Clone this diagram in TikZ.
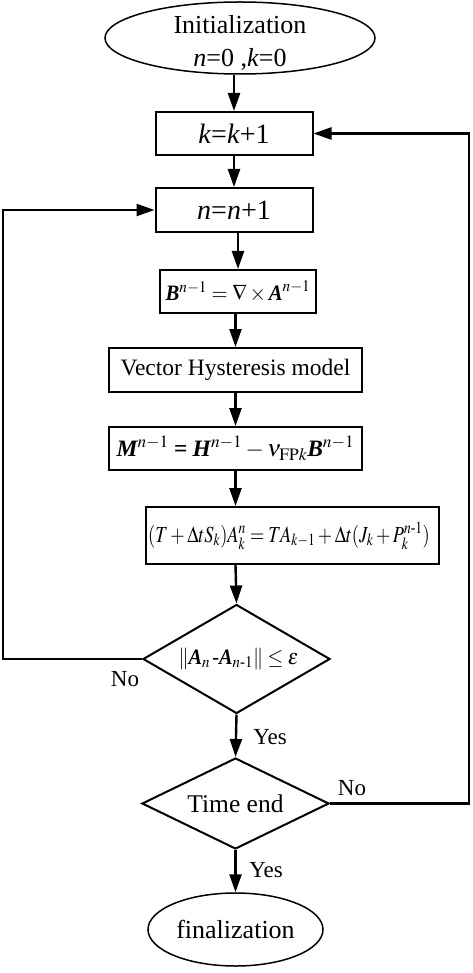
\documentclass[tikz,border=0pt]{standalone}
\usepackage{amsmath}
\usepackage{mathptmx}
\usepackage{fontspec}
\setmainfont{Liberation Serif}
\usetikzlibrary{shapes.geometric,arrows.meta}
\newcommand{\vb}[1]{\text{\bfseries\itshape #1}}
\newcommand{\fs}[1]{\fontsize{#1}{#1}\selectfont}
\begin{document}
\begin{tikzpicture}[x=1pt,y=-1pt,
  box/.style={draw, line width=2pt, inner sep=0pt},
  ell/.style={draw, ellipse, line width=1.5pt, inner sep=0pt},
  dia/.style={draw, diamond, line width=2pt, inner sep=0pt},
  arr/.style={line width=2.4pt, -{Triangle[length=18pt,width=12pt]}},
  lab/.style={inner sep=0pt, font=\fs{23}},
  txt/.style={inner sep=0pt, align=center}]
\useasboundingbox (0,0) rectangle (472,973);
% shapes
\node[ell, minimum width=270pt, minimum height=72pt] (init) at (240,38) {};
\node[txt, font=\fontsize{26}{33}\selectfont] (initT) at (240,43) {Initialization\\\textit{n}=0 ,\textit{k}=0};
\node[box, minimum width=157pt, minimum height=43pt, font=\fs{28}] (k) at (234,133.5) {\textit{k}=\textit{k}+1};
\node[box, minimum width=157pt, minimum height=44pt, font=\fs{28}] (n) at (234,210) {\textit{n}=\textit{n}+1};
\node[box, minimum width=156pt, minimum height=43pt, font=\fs{22}] (B) at (238,291.5) {\scalebox{0.94}[1]{$\vb{B}^{n-1}=\nabla\times\vb{A}^{n-1}$}};
\node[box, minimum width=253pt, minimum height=44pt, font=\fs{23.5}] (vh) at (235.5,370) {Vector Hysteresis model};
\node[box, minimum width=253pt, minimum height=43pt, font=\fs{23.5}] (M) at (235.5,448.5) {$\vb{M}^{n-1}\mathrel{\text{\bfseries =}}\vb{H}^{n-1}-\nu_{\mathrm{FP}k}\vb{B}^{n-1}$};
\node[box, minimum width=293pt, minimum height=57pt] (big) at (292,535.5) {};
\node[txt, font=\fs{23}] (bigT) at (289,536) {\scalebox{0.8}[1]{$(T+\Delta tS_k)A_k^n=TA_{k-1}+\Delta t(J_k+P_k^{n\text{-}1})$}};
\node[dia, minimum width=187pt, minimum height=109pt] (d1) at (236.5,659) {};
\node[txt, font=\fs{22}] (d1T) at (238.5,659) {\scalebox{0.92}[1]{$\left\|\vb{A}_n\,\text{-}\vb{A}_{n\text{-}1}\right\|\le\varepsilon$}};
\node[dia, minimum width=187pt, minimum height=91pt] (d2) at (235.5,803.5) {};
\node[txt, font=\fs{25.5}] (d2T) at (235.5,803.5) {Time end};
\node[ell, minimum width=175pt, minimum height=73pt] (fin) at (235.5,929.5) {};
\node[txt, font=\fs{26}] (finT) at (235.5,929.5) {finalization};
% labels
\node[lab] (no1) at (125,679) {No};
\node[lab] (yes1) at (270,737) {Yes};
\node[lab] (no2) at (352,788) {No};
\node[lab] (yes2) at (266,870) {Yes};
% connectors
\draw[arr] (init.south -| k.north) -- (k.north);
\draw[arr] (k) -- (n);
\draw[arr] (n.south -| B.north) -- (B.north);
\draw[arr] (B.south -| vh.north) -- (vh.north);
\draw[arr] (vh) -- (M);
\draw[arr] (M.south) -- (M.south |- big.north);
\draw[arr] (M.south |- big.south) -- (d1.north);
\draw[arr] (d1.south) -- (d2.north);
\draw[arr] (d2.south) -- (fin.north);
\draw[arr] (d1.west) -- (3,659) |- (n.west);
\draw[arr] (d2.east) -- (469,803.5) |- (k.east);
\end{tikzpicture}
\end{document}
